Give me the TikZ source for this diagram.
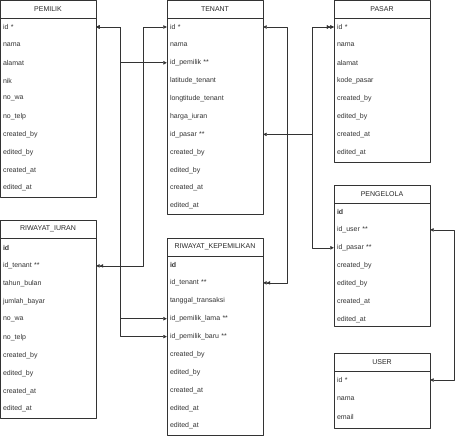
\documentclass[tikz,border=0pt]{standalone}
\usepackage{fontspec}
\setmainfont{Liberation Sans}
\usetikzlibrary{arrows.meta}
\begin{document}
\begin{tikzpicture}[x=1pt, y=-1pt, line join=round, font=\fontsize{7}{8}\selectfont,
	>={Triangle[length=3.5pt, width=3.5pt]},
	garis/.style={draw=black!80, line width=0.6pt},
	judul/.style={text=black!85},
	kolom/.style={text width=90pt, inner xsep=3pt, inner ysep=0pt, minimum height=17pt, align=left, text=black!80},
	relasi/.style={draw=black!80, line width=0.6pt}]
	\useasboundingbox (0,0) rectangle (460,436);
	% PEMILIK
	\draw[garis] (0,0) rectangle (96,197) (0,18)--(96,18);
	\node[judul] (pemilik) at (48,9) {PEMILIK};
	\foreach \teks [count=\i] in {id *, nama, alamat, nik, no\_wa, no\_telp, created\_by, edited\_by, created\_at, edited\_at}
	\node[kolom] (pemilik-\i) at (48,{27+17.9*(\i-1)}) {\teks};
	% TENANT
	\draw[garis] (167,0) rectangle (263,214) (167,18)--(263,18);
	\node[judul] (tenant) at (215,9) {TENANT};
	\foreach \teks [count=\i] in {id *, nama, id\_pemilik **, latitude\_tenant, longtitude\_tenant, harga\_iuran, id\_pasar **, created\_by, edited\_by, created\_at, edited\_at}
	\node[kolom] (tenant-\i) at (215,{27+17.9*(\i-1)}) {\teks};
	% PASAR
	\draw[garis] (334,0) rectangle (430,162) (334,18)--(430,18);
	\node[judul] (pasar) at (382,9) {PASAR};
	\foreach \teks [count=\i] in {id *, nama, alamat, kode\_pasar, created\_by, edited\_by, created\_at, edited\_at}
	\node[kolom] (pasar-\i) at (382,{27+17.9*(\i-1)}) {\teks};
	% RIWAYAT_IURAN
	\draw[garis] (0,220) rectangle (96,418) (0,238)--(96,238);
	\node[judul] (iuran) at (48,229) {RIWAYAT\_IURAN};
	\foreach \teks [count=\i] in {\textbf{id}, id\_tenant **, tahun\_bulan, jumlah\_bayar, no\_wa, no\_telp, created\_by, edited\_by, created\_at, edited\_at}
	\node[kolom] (iuran-\i) at (48,{248+17.9*(\i-1)}) {\teks};
	% RIWAYAT_KEPEMILIKAN
	\draw[garis] (167,238) rectangle (263,435) (167,256)--(263,256);
	\node[judul] (kepemilikan) at (215,247) {RIWAYAT\_KEPEMILIKAN};
	\foreach \teks [count=\i] in {\textbf{id}, id\_tenant **, tanggal\_transaksi, id\_pemilik\_lama **, id\_pemilik\_baru **, created\_by, edited\_by, created\_at, edited\_at, edited\_at}
	\node[kolom] (kepemilikan-\i) at (215,{265+17.9*(\i-1)}) {\teks};
	% PENGELOLA
	\draw[garis] (334,185) rectangle (430,326) (334,203)--(430,203);
	\node[judul] (pengelola) at (382,194) {PENGELOLA};
	\foreach \teks [count=\i] in {\textbf{id}, id\_user **, id\_pasar **, created\_by, edited\_by, created\_at, edited\_at}
	\node[kolom] (pengelola-\i) at (382,{212+17.9*(\i-1)}) {\teks};
	% USER
	\draw[garis] (334,353) rectangle (430,428) (334,371)--(430,371);
	\node[judul] (user) at (382,362) {USER};
	\foreach \teks [count=\i] in {id *, nama, email}
	\node[kolom] (user-\i) at (382,{380+18.5*(\i-1)}) {\teks};
	% relasi
	\draw[relasi, <->] (pemilik-1.east) -- ++(24,0) |- (tenant-3.west);
	\draw[relasi, <->] (pemilik-1.east) -- ++(24,0) |- (kepemilikan-4.west);
	\draw[relasi, <->] (pemilik-1.east) -- ++(24,0) |- (kepemilikan-5.west);
	\draw[relasi, <<->] (iuran-2.east) -- ++(47,0) |- (tenant-1.west);
	\draw[relasi, <<->] (kepemilikan-2.east) -- ++(24,0) |- (tenant-1.east);
	\draw[relasi, <->>] (tenant-7.east) -- ++(49,0) |- (pasar-1.west);
	\draw[relasi, <->>] (pengelola-3.west) -- ++(-22,0) |- (pasar-1.west);
	\draw[relasi, <->] (pengelola-2.east) -- ++(24,0) |- (user-1.east);
\end{tikzpicture}
\end{document}
